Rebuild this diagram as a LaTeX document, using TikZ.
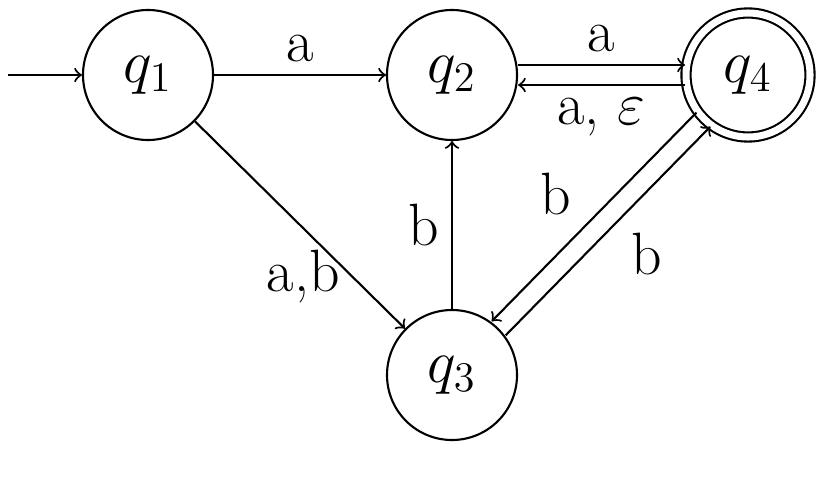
\documentclass[tikz,border=0pt]{standalone}
\usepackage{amsmath}
\usetikzlibrary{positioning}
\begin{document}
\begin{tikzpicture}[>=to,semithick,font=\fontsize{17}{21}\selectfont,
    state/.style={draw,circle,minimum size=1.3cm,inner sep=0pt},
    accept/.style={state,double,double distance=2pt}]
    \useasboundingbox (0,0) rectangle (8.38,4.76);
    \node[state] (q1) at (1.48,4.01) {$ q_1 $};
    \node[state] (q2) at (4.52,4.01) {$ q_2 $};
    \node[accept,minimum size=1.24cm] (q4) at (7.48,4.01) {$ q_4 $};
    \node[state] (q3) at (4.52,1.01) {$ q_3 $};
    \coordinate (start) at (0.08,4.01);

    \draw[->] (start)--(q1);
    \draw[->] (q1)--node[above]{a}(q2);
    \draw[->] ([yshift=0.1cm]q2.east)--node[above]{a}([yshift=0.1cm]q4.west);
    \draw[->] ([yshift=-0.1cm]q4.west)--node[below]{a, $ \varepsilon $}([yshift=-0.1cm]q2.east);
    \draw[->] (q1)--node[left,pos=0.75]{a,b}(q3);
    \draw[->] (q3)--node[left]{b}(q2);
    \draw[->] ([shift={(-0.07,0.07)}]q4.south west)--node[above left,pos=0.55]{b}([shift={(-0.07,0.07)}]q3.north east);
    \draw[->] ([shift={(0.07,-0.07)}]q3.north east)--node[below right,pos=0.55]{b}([shift={(0.07,-0.07)}]q4.south west);
\end{tikzpicture}
\end{document}
